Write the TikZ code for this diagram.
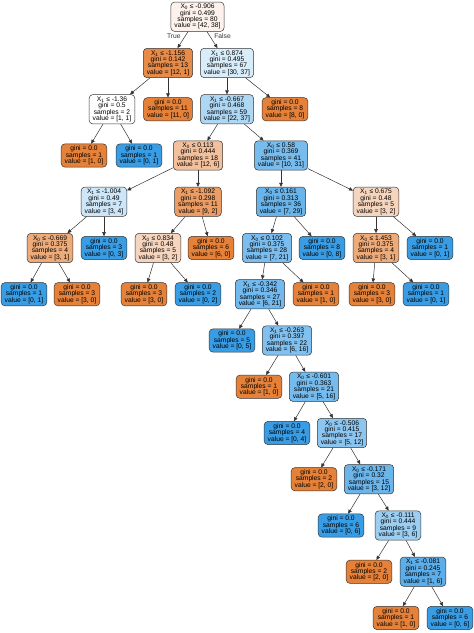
\documentclass[tikz,border=0pt]{standalone}
\usepackage{fontspec}
\setmainfont{Liberation Sans}
\usetikzlibrary{positioning,arrows.meta}
\definecolor{cls0}{HTML}{E58139}
\definecolor{cls1}{HTML}{399DE5}
\newcommand\treefont{\fontsize{6.7}{6.4}\selectfont}
\tikzset{
  box/.style={draw=black!80, line width=0.5pt, rounded corners=3.5pt, align=center,
    inner xsep=3.5pt, inner ysep=2pt, font=\treefont, fill=#1},
  link/.style={-{Triangle[length=4pt,width=3.5pt]}, black!80, line width=0.5pt},
  lab/.style={font=\treefont, inner sep=1pt}
}
\begin{document}
\begin{tikzpicture}[node distance=46.25pt]
			\useasboundingbox (0,0) rectangle (474pt,-633pt);
			\node(n0)[box=cls0!10]	at (197.5pt,-16.75pt)	{X\textsubscript{0} ≤ -0.906\\gini = 0.499\\samples = 80\\value = [42, 38]};
			\node(n1)[box=cls0!92, below of=n0, xshift=-29.5pt]	{X\textsubscript{1} ≤ -1.156\\gini = 0.142\\samples = 13\\value = [12, 1]};
			\node(n6)[box=cls1!19, below of=n0, xshift=29.5pt]	{X\textsubscript{1} ≤ 0.874\\gini = 0.495\\samples = 67\\value = [30, 37]};
			\node(n2)[box=white, below of=n1, xshift=-56pt]	{X\textsubscript{1} ≤ -1.36\\gini = 0.5\\samples = 2\\value = [1, 1]};
			\node(n5)[box=cls0, below of=n1]	{gini = 0.0\\samples = 11\\value = [11, 0]};
			\node(n7)[box=cls1!41, below of=n6]	{X\textsubscript{1} ≤ -0.667\\gini = 0.468\\samples = 59\\value = [22, 37]};
			\node(n44)[box=cls0, below of=n6, xshift=58pt]	{gini = 0.0\\samples = 8\\value = [8, 0]};
			\node(n3)[box=cls0, below of=n2, xshift=-28pt]	{gini = 0.0\\samples = 1\\value = [1, 0]};
			\node(n4)[box=cls1, below of=n2, xshift=27pt]	{gini = 0.0\\samples = 1\\value = [0, 1]};
			\node(n8)[box=cls0!50, below of=n7, xshift=-29pt]	{X\textsubscript{0} ≤ 0.113\\gini = 0.444\\samples = 18\\value = [12, 6]};
			\node(n19)[box=cls1!68, below of=n7, xshift=54pt]	{X\textsubscript{0} ≤ 0.58\\gini = 0.369\\samples = 41\\value = [10, 31]};
			\node(n9)[box=cls1!25, below of=n8, xshift=-94pt]	{X\textsubscript{1} ≤ -1.004\\gini = 0.49\\samples = 7\\value = [3, 4]};
			\node(n14)[box=cls0!78, below of=n8]	{X\textsubscript{1} ≤ -1.092\\gini = 0.298\\samples = 11\\value = [9, 2]};
			\node(n20)[box=cls1!76, below of=n19]	{X\textsubscript{0} ≤ 0.161\\gini = 0.313\\samples = 36\\value = [7, 29]};
			\node(n39)[box=cls0!33, below of=n19, xshift=95pt]	{X\textsubscript{1} ≤ 0.675\\gini = 0.48\\samples = 5\\value = [3, 2]};
			\node(n10)[box=cls0!67, below of=n9, xshift=-54pt]	{X\textsubscript{0} ≤ -0.669\\gini = 0.375\\samples = 4\\value = [3, 1]};
			\node(n13)[box=cls1, below of=n9]	{gini = 0.0\\samples = 3\\value = [0, 3]};
			\node(n15)[box=cls0!33, below of=n14, xshift=-40pt]	{X\textsubscript{0} ≤ 0.834\\gini = 0.48\\samples = 5\\value = [3, 2]};
			\node(n18)[box=cls0, below of=n14, xshift=13pt]	{gini = 0.0\\samples = 6\\value = [6, 0]};
			\node(n21)[box=cls1!67, below of=n20, xshift=-14pt]	{X\textsubscript{0} ≤ 0.102\\gini = 0.375\\samples = 28\\value = [7, 21]};
			\node(n38)[box=cls1, below of=n20, xshift=41pt]	{gini = 0.0\\samples = 8\\value = [0, 8]};
			\node(n40)[box=cls0!67, below of=n39]	{X\textsubscript{0} ≤ 1.453\\gini = 0.375\\samples = 4\\value = [3, 1]};
			\node(n43)[box=cls1, below of=n39, xshift=54pt]	{gini = 0.0\\samples = 1\\value = [0, 1]};
			\node(n11)[box=cls1, below of=n10, xshift=-26pt]	{gini = 0.0\\samples = 1\\value = [0, 1]};
			\node(n12)[box=cls0, below of=n10, xshift=27pt]	{gini = 0.0\\samples = 3\\value = [3, 0]};
			\node(n16)[box=cls0, below of=n15, xshift=-14pt]	{gini = 0.0\\samples = 3\\value = [3, 0]};
			\node(n17)[box=cls1, below of=n15, xshift=40pt]	{gini = 0.0\\samples = 2\\value = [0, 2]};
			\node(n22)[box=cls1!71, below of=n21, xshift=-7pt]	{X\textsubscript{1} ≤ -0.342\\gini = 0.346\\samples = 27\\value = [6, 21]};
			\node(n37)[box=cls0, below of=n21, xshift=49pt]	{gini = 0.0\\samples = 1\\value = [1, 0]};
			\node(n41)[box=cls0, below of=n40, xshift=-4pt]	{gini = 0.0\\samples = 3\\value = [3, 0]};
			\node(n42)[box=cls1, below of=n40, xshift=50pt]	{gini = 0.0\\samples = 1\\value = [0, 1]};
			\node(n23)[box=cls1, below of=n22, xshift=-28pt]	{gini = 0.0\\samples = 5\\value = [0, 5]};
			\node(n24)[box=cls1!63, below of=n22, xshift=27pt]	{X\textsubscript{1} ≤ -0.263\\gini = 0.397\\samples = 22\\value = [6, 16]};
			\node(n25)[box=cls0, below of=n24, xshift=-28pt]	{gini = 0.0\\samples = 1\\value = [1, 0]};
			\node(n26)[box=cls1!69, below of=n24, xshift=27pt]	{X\textsubscript{0} ≤ -0.601\\gini = 0.363\\samples = 21\\value = [5, 16]};
			\node(n27)[box=cls1, below of=n26, xshift=-27pt]	{gini = 0.0\\samples = 4\\value = [0, 4]};
			\node(n28)[box=cls1!58, below of=n26, xshift=28pt]	{X\textsubscript{0} ≤ -0.506\\gini = 0.415\\samples = 17\\value = [5, 12]};
			\node(n29)[box=cls0, below of=n28, xshift=-28pt]	{gini = 0.0\\samples = 2\\value = [2, 0]};
			\node(n30)[box=cls1!75, below of=n28, xshift=27pt]	{X\textsubscript{0} ≤ -0.171\\gini = 0.32\\samples = 15\\value = [3, 12]};
			\node(n31)[box=cls1, below of=n30, xshift=-28pt]	{gini = 0.0\\samples = 6\\value = [0, 6]};
			\node(n32)[box=cls1!50, below of=n30, xshift=29pt]	{X\textsubscript{0} ≤ -0.111\\gini = 0.444\\samples = 9\\value = [3, 6]};
			\node(n33)[box=cls0, below of=n32, xshift=-29pt]	{gini = 0.0\\samples = 2\\value = [2, 0]};
			\node(n34)[box=cls1!83, below of=n32, xshift=25pt]	{X\textsubscript{1} ≤ -0.081\\gini = 0.245\\samples = 7\\value = [1, 6]};
			\node(n35)[box=cls0, below of=n34, xshift=-27pt]	{gini = 0.0\\samples = 1\\value = [1, 0]};
			\node(n36)[box=cls1, below of=n34, xshift=27pt]	{gini = 0.0\\samples = 6\\value = [0, 6]};
			\draw[link](n0)      -- node[lab, pos=0.3, left=3pt] {True} (n1);
			\draw[link](n0)      -- node[lab, pos=0.3, right=3pt] {False} (n6);
			\draw[link](n1)      -- (n2);
			\draw[link](n1)      -- (n5);
			\draw[link](n2)      -- (n3);
			\draw[link](n2)      -- (n4);
			\draw[link](n6)      -- (n7);
			\draw[link](n6)      -- (n44);
			\draw[link](n7)      -- (n8);
			\draw[link](n7)      -- (n19);
			\draw[link](n8)      -- (n9);
			\draw[link](n8)      -- (n14);
			\draw[link](n9)      -- (n10);
			\draw[link](n9)      -- (n13);
			\draw[link](n10)      -- (n11);
			\draw[link](n10)      -- (n12);
			\draw[link](n14)      -- (n15);
			\draw[link](n14)      -- (n18);
			\draw[link](n15)      -- (n16);
			\draw[link](n15)      -- (n17);
			\draw[link](n19)      -- (n20);
			\draw[link](n19)      -- (n39);
			\draw[link](n20)      -- (n21);
			\draw[link](n20)      -- (n38);
			\draw[link](n21)      -- (n22);
			\draw[link](n21)      -- (n37);
			\draw[link](n22)      -- (n23);
			\draw[link](n22)      -- (n24);
			\draw[link](n24)      -- (n25);
			\draw[link](n24)      -- (n26);
			\draw[link](n26)      -- (n27);
			\draw[link](n26)      -- (n28);
			\draw[link](n28)      -- (n29);
			\draw[link](n28)      -- (n30);
			\draw[link](n30)      -- (n31);
			\draw[link](n30)      -- (n32);
			\draw[link](n32)      -- (n33);
			\draw[link](n32)      -- (n34);
			\draw[link](n34)      -- (n35);
			\draw[link](n34)      -- (n36);
			\draw[link](n39)      -- (n40);
			\draw[link](n39)      -- (n43);
			\draw[link](n40)      -- (n41);
			\draw[link](n40)      -- (n42);
		\end{tikzpicture}
\end{document}
